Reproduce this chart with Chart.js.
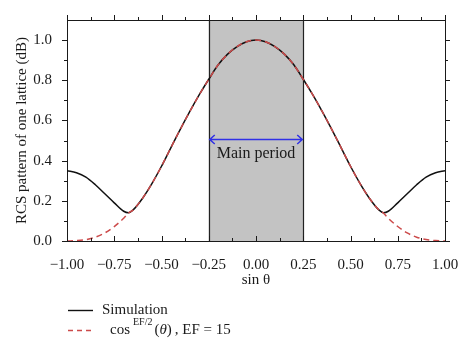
<!DOCTYPE html>
<html><head><meta charset="utf-8">
<script src="https://cdn.jsdelivr.net/npm/chart.js@4/dist/chart.umd.min.js"></script>
<style>html,body{margin:0;padding:0;background:#fff}#wrap{width:474px;height:355px}</style>
</head><body><div id="wrap"><canvas id="c" width="474" height="355"></canvas></div>
<script>
const sinTheta = [-1,-0.95,-0.9,-0.85,-0.8,-0.75,-0.7,-0.675,-0.65,-0.6,-0.55,-0.5,-0.45,-0.4,-0.35,-0.3,-0.25,-0.2,-0.15,-0.1,-0.05,0,0.05,0.1,0.15,0.2,0.25,0.3,0.35,0.4,0.45,0.5,0.55,0.6,0.65,0.675,0.7,0.75,0.8,0.85,0.9,0.95,1];
const simulation = [0.35,0.34,0.318,0.28,0.235,0.19,0.148,0.141,0.155,0.213,0.287,0.372,0.465,0.557,0.645,0.728,0.805,0.877,0.93,0.968,0.992,1.0,0.992,0.968,0.93,0.877,0.805,0.728,0.645,0.557,0.465,0.372,0.287,0.213,0.155,0.141,0.148,0.19,0.235,0.28,0.318,0.34,0.35];
const cosModel = [0,0.002,0.007,0.019,0.04,0.072,0.113,0.138,0.155,0.213,0.287,0.372,0.465,0.557,0.645,0.728,0.805,0.877,0.93,0.968,0.992,1.0,0.992,0.968,0.93,0.877,0.805,0.728,0.645,0.557,0.465,0.372,0.287,0.213,0.155,0.138,0.113,0.072,0.04,0.019,0.007,0.002,0];
const xTicks = [-1,-0.75,-0.5,-0.25,0,0.25,0.5,0.75,1];
const yTicks = [0,0.2,0.4,0.6,0.8,1.0];
const xMinorTicks = [-0.875,-0.625,-0.375,-0.125,0.125,0.375,0.625,0.875];
const yMinorTicks = [0.1,0.3,0.5,0.7,0.9];
const mainPeriod = [-0.25, 0.25];
const arrowLevel = 0.51;
const mainPeriodLabel = 'Main period';
const seriesNames = ['Simulation', 'cos'];
const xTitle = 'sin θ';
const yTitle = 'RCS pattern of one lattice (dB)';

const FONT = "'Liberation Serif', 'DejaVu Serif', serif";
const INK = '#1a1a1a';
const RED = '#cc4a4a';

const decor = {
  id: 'decor',
  beforeDatasetsDraw(chart) {
    const {ctx, chartArea: a, scales: {x}} = chart;
    const x0 = x.getPixelForValue(mainPeriod[0]), x1 = x.getPixelForValue(mainPeriod[1]);
    ctx.save();
    ctx.fillStyle = '#c3c3c3';
    ctx.fillRect(x0, a.top, x1 - x0, a.bottom - a.top);
    ctx.strokeStyle = '#222';
    ctx.lineWidth = 1.2;
    ctx.beginPath();
    ctx.moveTo(Math.round(x0) + 0.5, a.top); ctx.lineTo(Math.round(x0) + 0.5, a.bottom);
    ctx.moveTo(Math.round(x1) + 0.5, a.top); ctx.lineTo(Math.round(x1) + 0.5, a.bottom);
    ctx.stroke();
    ctx.restore();
  },
  afterDatasetsDraw(chart) {
    const {ctx, chartArea: a, scales: {x, y}} = chart;
    ctx.save();
    const x0 = x.getPixelForValue(mainPeriod[0]) + 1, x1 = x.getPixelForValue(mainPeriod[1]) - 1;
    const ay = Math.round(y.getPixelForValue(arrowLevel)) + 0.5;
    ctx.strokeStyle = '#3030e6';
    ctx.lineWidth = 1.5;
    ctx.beginPath();
    ctx.moveTo(x0, ay); ctx.lineTo(x1, ay);
    ctx.moveTo(x0 + 5, ay - 4.5); ctx.lineTo(x0, ay); ctx.lineTo(x0 + 5, ay + 4.5);
    ctx.moveTo(x1 - 5, ay - 4.5); ctx.lineTo(x1, ay); ctx.lineTo(x1 - 5, ay + 4.5);
    ctx.stroke();
    ctx.fillStyle = INK;
    ctx.font = '16px ' + FONT;
    ctx.textAlign = 'center';
    ctx.textBaseline = 'middle';
    ctx.fillText(mainPeriodLabel, (x0 + x1) / 2, ay + 14);
    ctx.strokeStyle = INK;
    ctx.lineWidth = 1;
    ctx.beginPath();
    ctx.moveTo(a.left, Math.round(a.top) + 0.5); ctx.lineTo(a.right, Math.round(a.top) + 0.5);
    ctx.moveTo(Math.round(a.right) + 0.5, a.top); ctx.lineTo(Math.round(a.right) + 0.5, a.bottom);
    ctx.stroke();
    ctx.beginPath();
    const tickX = (v, len) => {
      const px = Math.round(x.getPixelForValue(v)) + 0.5;
      ctx.moveTo(px, a.bottom); ctx.lineTo(px, a.bottom - len);
      ctx.moveTo(px, a.top); ctx.lineTo(px, a.top - len);
    };
    const tickY = (v, len) => {
      const py = Math.round(y.getPixelForValue(v)) + 0.5;
      ctx.moveTo(a.left, py); ctx.lineTo(a.left - len, py);
      ctx.moveTo(a.right, py); ctx.lineTo(a.right + len, py);
    };
    xTicks.forEach(v => tickX(v, 5));
    xMinorTicks.forEach(v => tickX(v, 3));
    yTicks.forEach(v => tickY(v, 5));
    yMinorTicks.forEach(v => tickY(v, 3));
    ctx.stroke();
    const lx0 = 68, lx1 = 93;
    let ly = 310;
    ctx.strokeStyle = '#111';
    ctx.lineWidth = 1.4;
    ctx.beginPath(); ctx.moveTo(lx0, ly + 0.5); ctx.lineTo(lx1, ly + 0.5); ctx.stroke();
    ctx.textAlign = 'left';
    ctx.textBaseline = 'middle';
    ctx.fillStyle = INK;
    ctx.font = '15px ' + FONT;
    ctx.fillText(seriesNames[0], 102, ly);
    ly = 330;
    ctx.strokeStyle = RED;
    ctx.setLineDash([5, 4]);
    ctx.beginPath(); ctx.moveTo(lx0, ly + 0.5); ctx.lineTo(lx1, ly + 0.5); ctx.stroke();
    ctx.setLineDash([]);
    let tx = 110;
    ctx.font = '15px ' + FONT;
    ctx.fillText(seriesNames[1], tx, ly); tx += ctx.measureText(seriesNames[1]).width + 3;
    ctx.font = '10px ' + FONT;
    ctx.fillText('EF/2', tx, ly - 8); tx += ctx.measureText('EF/2').width + 2;
    ctx.font = '15px ' + FONT;
    ctx.fillText('(', tx, ly); tx += ctx.measureText('(').width;
    ctx.font = 'italic 15px ' + FONT;
    ctx.fillText('θ', tx, ly); tx += ctx.measureText('θ').width;
    ctx.font = '15px ' + FONT;
    ctx.fillText(')', tx, ly); tx += ctx.measureText(')').width + 3;
    ctx.fillText(', EF = 15', tx, ly);
    ctx.restore();
  }
};

new Chart(document.getElementById('c'), {
  type: 'line',
  data: {
    datasets: [
      {
        label: 'Simulation',
        data: sinTheta.map((v, i) => ({x: v, y: simulation[i]})),
        borderColor: '#111',
        borderWidth: 1.5,
        pointRadius: 0,
        cubicInterpolationMode: 'monotone',
        order: 1
      },
      {
        label: 'cos^(EF/2)(θ), EF = 15',
        data: sinTheta.map((v, i) => ({x: v, y: cosModel[i]})),
        borderColor: RED,
        borderWidth: 1.5,
        borderDash: [6, 4],
        pointRadius: 0,
        cubicInterpolationMode: 'monotone',
        order: 0
      }
    ]
  },
  options: {
    responsive: false,
    animation: false,
    devicePixelRatio: 1,
    layout: {padding: {left: 0, top: 20, right: 29, bottom: 64}},
    plugins: {legend: {display: false}, tooltip: {enabled: false}},
    scales: {
      x: {
        type: 'linear', min: -1, max: 1,
        afterBuildTicks: s => { s.ticks = xTicks.map(v => ({value: v})); },
        afterFit: s => { s.height = 50; },
        grid: {display: false},
        border: {display: true, color: INK, width: 1},
        ticks: {color: INK, font: {family: FONT, size: 15}, padding: 7,
          callback: v => (v < 0 ? '\u2212' : '') + Math.abs(v).toFixed(2)},
        title: {display: true, text: xTitle, color: INK, font: {family: FONT, size: 15}, padding: {top: 0, bottom: 2}}
      },
      y: {
        type: 'linear', min: 0, max: 1.1,
        afterBuildTicks: s => { s.ticks = yTicks.map(v => ({value: v})); },
        afterFit: s => { s.width = 67; },
        grid: {display: false},
        border: {display: true, color: INK, width: 1},
        ticks: {color: INK, font: {family: FONT, size: 15}, padding: 7,
          callback: v => v.toFixed(1)},
        title: {display: true, text: yTitle, color: INK, font: {family: FONT, size: 15}, padding: {top: 13, bottom: 0}}
      }
    }
  },
  plugins: [decor]
});
</script></body></html>
